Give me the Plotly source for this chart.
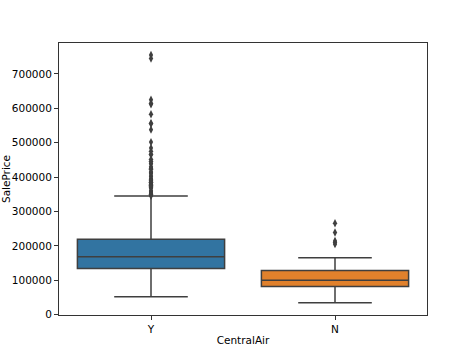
import plotly.graph_objects as go

categories = ["Y", "N"]
q1_vals = [134000, 82000]
median_vals = [168500, 100000]
q3_vals = [219500, 128500]
lower_whisker = [52000, 34900]
upper_whisker = [345000, 165500]
outliers_y = [755000, 745000, 625000, 615000, 611657, 582933, 556581, 555000, 538000,
              501837, 485000, 475000, 466500, 465000, 451950, 446261, 440000, 438780,
              430000, 426000, 424870, 423000, 415298, 412500, 410000, 402861, 402000,
              394617, 394432, 392500, 392000, 390000, 387000, 386250, 385000, 384500,
              383970, 381000, 380000, 378500, 377500, 377426, 376162, 375000, 374000,
              372500, 372402, 370878, 369900, 367294, 360000, 359100, 354000, 352000,
              350000, 348000, 346000]
outliers_n = [265979, 239000, 214000, 210000, 205000]
y_ticks = [0, 100000, 200000, 300000, 400000, 500000, 600000, 700000]

fill_colors = ["#3274a1", "#e1812c"]
line_color = "#3f3f3f"

fig = go.Figure()
for i, cat in enumerate(categories):
    fig.add_trace(go.Box(
        x=[i], q1=[q1_vals[i]], median=[median_vals[i]], q3=[q3_vals[i]],
        lowerfence=[lower_whisker[i]], upperfence=[upper_whisker[i]],
        fillcolor=fill_colors[i], line=dict(color=line_color, width=1.5),
        width=0.8, whiskerwidth=0.5, boxpoints=False, showlegend=False,
        hoverinfo="skip"))

for i, outs in enumerate([outliers_y, outliers_n]):
    fig.add_trace(go.Scatter(
        x=[i] * len(outs), y=outs, mode="markers",
        marker=dict(symbol="diamond-tall", size=6, color=line_color,
                    line=dict(width=0)),
        showlegend=False, hoverinfo="skip"))

font = "DejaVu Sans"
fig.update_layout(
    width=474, height=355,
    margin=dict(l=59, r=47, t=43, b=40),
    paper_bgcolor="white", plot_bgcolor="white",
    font=dict(family=font, size=10.5, color="black"),
    xaxis=dict(
        range=[-0.5, 1.5], tickmode="array", tickvals=[0, 1], ticktext=categories,
        showgrid=False, zeroline=False, showline=True, mirror=True,
        linecolor="#333333", linewidth=1, ticks="outside", ticklen=4,
        tickcolor="#333333", automargin=False,
        title=dict(text="CentralAir", font=dict(size=10.5), standoff=3)),
    yaxis=dict(
        range=[-1000, 790000], tickmode="array", tickvals=y_ticks,
        ticktext=[str(v) for v in y_ticks],
        showgrid=False, zeroline=False, showline=True, mirror=True,
        linecolor="#333333", linewidth=1, ticks="outside", ticklen=4,
        tickcolor="#333333", automargin=False,
        title=dict(text="SalePrice", font=dict(size=10.5), standoff=10)),
)

fig.write_html("out.html", config={"displayModeBar": False},
               post_script="document.body.style.margin='0';document.body.style.padding='0';")
